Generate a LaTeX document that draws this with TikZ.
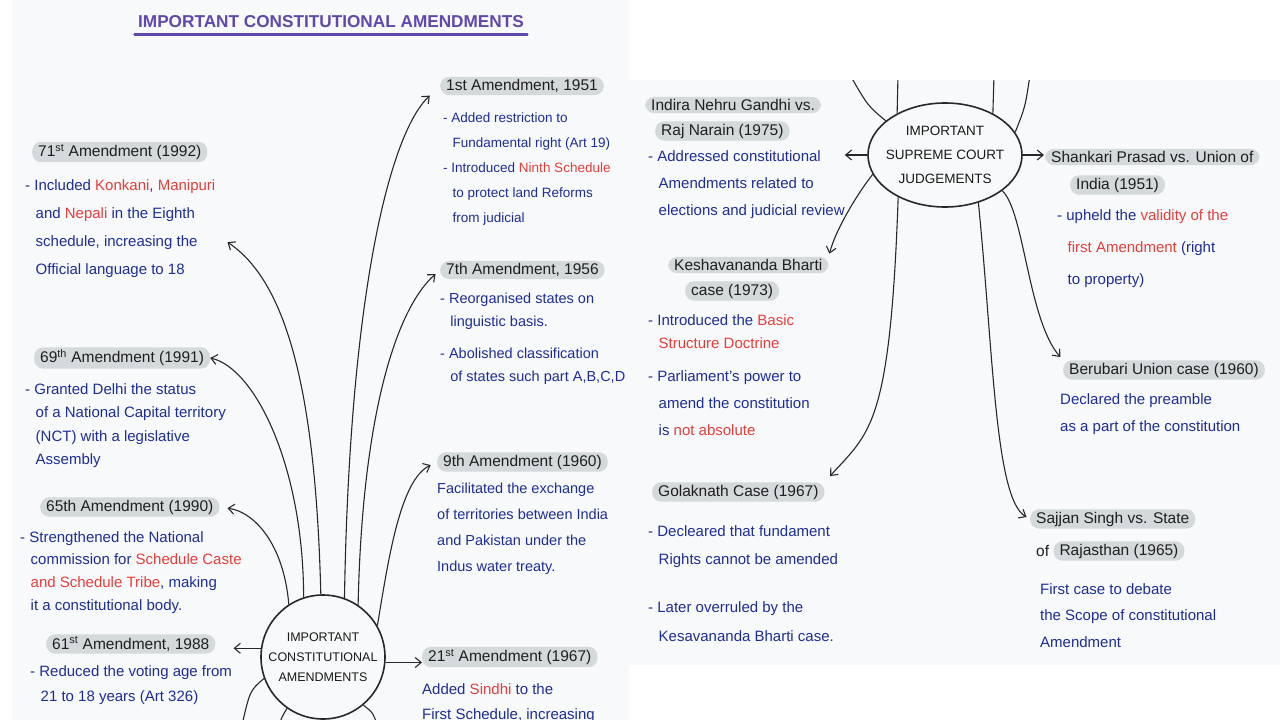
\documentclass[tikz,border=0pt]{standalone}
\usepackage{fontspec}
\setmainfont{Liberation Sans}
\usetikzlibrary{arrows.meta,shapes.geometric,positioning}
\definecolor{ink}{RGB}{30,45,150}
\definecolor{inkred}{RGB}{228,62,58}
\definecolor{titleink}{RGB}{96,72,172}
\definecolor{pillgray}{RGB}{212,217,220}
\definecolor{paper}{RGB}{248,249,250}
\definecolor{pen}{RGB}{40,40,40}
\newcommand{\redword}[1]{\textcolor{inkred}{#1}}
\newcommand{\indt}{\hspace*{0.7em}}

\begin{document}
\begin{tikzpicture}[x=1pt, y=-1pt,
    hub/.style={draw=pen, line width=1.6pt, align=center, inner sep=0pt, text=black!90, font=\fontsize{13}{20}\selectfont},
    head/.style={fill=pillgray, rounded corners=9pt, anchor=west, inner xsep=6pt, inner ysep=2.5pt, text=black!88, font=\fontsize{15.5}{18}\selectfont},
    body/.style={anchor=north west, align=left, inner sep=0pt, text=ink, font=\fontsize{15}{#1}\selectfont},
    body/.default=26,
    arr/.style={-{Straight Barb[length=6pt,width=10pt]}, line width=1.1pt, draw=pen},
    link/.style={line width=1.1pt, draw=pen}
]
\useasboundingbox (0,0) rectangle (1280,720);
\clip (0,0) rectangle (1280,720);
\fill[white] (0,0) rectangle (1280,720);
\fill[paper] (12,0) rectangle (629,720);
\fill[paper] (629,80) rectangle (1280,665);

\node[text=titleink, font=\fontsize{17.2}{20}\selectfont\bfseries] (title) at (331,22) {IMPORTANT CONSTITUTIONAL AMENDMENTS};
\draw[titleink, line width=2.5pt, line cap=round] ([yshift=-3pt]title.south west) -- ([yshift=-3pt]title.south east);

\node[hub, circle, minimum size=124pt, font=\fontsize{12.5}{20}\selectfont] (amend) at (323,657) {IMPORTANT\\CONSTITUTIONAL\\AMENDMENTS};

\node[head] (h1951) at (440,86) {1st Amendment, 1951};
\node[body=25, font=\fontsize{13.5}{25}\selectfont] (b1951) at (443,113) {- Added restriction to\\\indt Fundamental right (Art 19)\\- Introduced \redword{Ninth Schedule}\\\indt to protect land Reforms\\\indt from judicial};

\node[head] (h1992) at (32,152) {71\textsuperscript{st} Amendment (1992)};
\node[body=28] (b1992) at (25,179) {- Included \redword{Konkani}, \redword{Manipuri}\\\indt and \redword{Nepali} in the Eighth\\\indt schedule, increasing the\\\indt Official language to 18};

\node[head] (h1956) at (440,270) {7th Amendment, 1956};
\node[body=23, font=\fontsize{14.5}{23}\selectfont] (b1956) at (440,293) {- Reorganised states on\\\indt linguistic basis.\\[9pt]- Abolished classification\\\indt of states such part A,B,C,D};

\node[head] (h1991) at (34,358) {69\textsuperscript{th} Amendment (1991)};
\node[body=23.5] (b1991) at (25,383) {- Granted Delhi the status\\\indt of a National Capital territory\\\indt (NCT) with a legislative\\\indt Assembly};

\node[head] (h1960) at (437,462) {9th Amendment (1960)};
\node[body, font=\fontsize{14.5}{26}\selectfont] (b1960) at (437,483) {Facilitated the exchange\\of territories between India\\and Pakistan under the\\Indus water treaty.};

\node[head] (h1990) at (40,507) {65th Amendment (1990)};
\node[body=22.7] (b1990) at (20,531) {- Strengthened the National\\\indt commission for \redword{Schedule Caste}\\\indt \redword{and Schedule Tribe}, making\\\indt it a constitutional body.};

\node[head] (h1988) at (46,644) {61\textsuperscript{st} Amendment, 1988};
\node[body=25] (b1988) at (30,665) {- Reduced the voting age from\\\indt 21 to 18 years (Art 326)};

\node[head] (h1967) at (422,657) {21\textsuperscript{st} Amendment (1967)};
\node[body=25] (b1967) at (422,683) {Added \redword{Sindhi} to the\\First Schedule, increasing};

\draw[arr] (amend.92) .. controls +(-5,-200) and +(60,40) .. ([xshift=12pt,yshift=-14pt]b1992.east);
\draw[arr] (amend.108) .. controls +(0,-130) and +(45,10) .. (h1991.east);
\draw[arr, shorten >=8pt] (amend.123) .. controls +(-5,-60) and +(35,5) .. (h1990.east);
\draw[arr, shorten >=14pt] (amend.70) .. controls +(5,-300) and +(-51,48) .. (h1951.west);
\draw[arr, shorten >=6pt] (amend.56) .. controls +(4,-186) and +(-45,40) .. (h1956.west);
\draw[arr, shorten >=7pt] (amend.30) .. controls +(11,-66) and +(-37,18) .. (h1960.west);
\draw[arr, shorten >=18pt] (amend.172) -- (amend.172 -| h1988.east);
\draw[arr] (amend.-5) -- (amend.-5 -| h1967.west);

\coordinate (downA) at (242,725);
\coordinate (downB) at (280,725);
\coordinate (downC) at (377,725);
\draw[link] (amend.200) .. controls +(-14,12) .. (downA);
\draw[link] (amend.235) .. controls +(-6,10) .. (downB);
\draw[link] (amend.310) .. controls +(10,8) .. (downC);

\node[hub, ellipse, minimum width=154pt, minimum height=104pt, inner sep=-5pt, font=\fontsize{13.5}{24}\selectfont] (court) at (945,155) {IMPORTANT\\SUPREME COURT\\JUDGEMENTS};

\node[head] (hIndira) at (645,105) {Indira Nehru Gandhi vs.};
\node[head] (hNarain) at (655,131) {Raj Narain (1975)};
\node[body=27] (bIndira) at (648,150) {- Addressed constitutional\\\indt Amendments related to\\\indt elections and judicial review};

\node[head] (hPrasad) at (1045,157) {Shankari Prasad vs. Union of};
\node[head] (hIndia) at (1070,185) {India (1951)};
\node[body=32] (bPrasad) at (1057,209) {- upheld the \redword{validity of the}\\\indt \redword{first Amendment} (right\\\indt to property)};

\node[head] (hKesh) at (668,265) {Keshavananda Bharti};
\node[head] (hKeshCase) at (685,291) {case (1973)};
\node[body=27] (bKesh) at (648,314) {- Introduced the \redword{Basic}\\[-4pt]\indt \redword{Structure Doctrine}\\[6pt]- Parliament's power to\\\indt amend the constitution\\\indt is \redword{not absolute}};

\node[head] (hBeru) at (1063,370) {Berubari Union case (1960)};
\node[body=27] (bBeru) at (1060,393) {Declared the preamble\\as a part of the constitution};

\node[head] (hGolak) at (652,492) {Golaknath Case (1967)};
\node[body=28.5] (bGolak) at (648,525) {- Decleared that fundament\\\indt Rights cannot be amended\\[19.5pt]- Later overruled by the\\\indt Kesavananda Bharti case.};

\node[head] (hSajjan) at (1030,519) {Sajjan Singh vs. State};
\node[head, fill=none, inner xsep=0pt] (ofSajjan) at (1036,551) {of};
\node[head, right=4pt of ofSajjan] (hRajasthan) {Rajasthan (1965)};
\node[body=26.5] (bSajjan) at (1040,583) {First case to debate\\the Scope of constitutional\\Amendment};

\draw[arr] (court.west) -- (court.west -| bIndira.east);
\draw[arr, shorten >=1pt] (court.east) -- (court.east -| hPrasad.west);
\draw[arr, shorten >=3pt] (court.195) .. controls +(-12,15) and +(8,-30) .. (hKesh.north east);
\draw[arr, shorten >=8pt] (court.222) .. controls +(-8,230) and +(45,-50) .. (hGolak.north east);
\draw[arr, shorten >=4pt] (court.-32) .. controls +(22,20) and +(-35,-40) .. (hBeru.north west);
\draw[arr, shorten >=4pt] (court.-55) .. controls +(15,150) and +(-35,-20) .. (hSajjan.west);

\begin{scope}
\clip (629,80) rectangle (1280,665);
\coordinate (upA) at (850,75);
\coordinate (upB) at (898,75);
\coordinate (upC) at (994,75);
\coordinate (upD) at (1030,75);
\draw[link] (court.150) .. controls +(-18,-15) .. (upA);
\draw[link] (court.139) -- (upB);
\draw[link] (court.41) -- (upC);
\draw[link] (court.18) .. controls +(10,-25) .. (upD);
\end{scope}
\end{tikzpicture}
\end{document}
